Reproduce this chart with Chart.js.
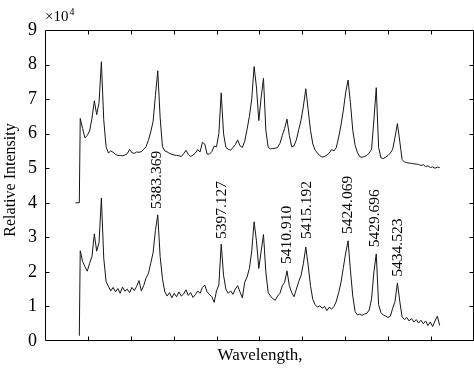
<!DOCTYPE html>
<html>
<head>
<meta charset="utf-8">
<script src="https://cdn.jsdelivr.net/npm/chart.js@4.4.1/dist/chart.umd.min.js"></script>
<style>
  html, body { margin: 0; padding: 0; background: #fff; }
  #wrap { width: 474px; height: 369px; }
</style>
</head>
<body>
<div id="wrap"><canvas id="spec" width="474" height="369"></canvas></div>
<script>
/* ── DATA: sampled spectra (x in Å, intensity in units of 1e4) ── */
var WAVELENGTH = [
  5366.0, 5366.5, 5366.8, 5367.0, 5367.5, 5368.0, 5368.5, 5369.0, 5369.5, 5370.0, 5370.5,
  5371.0, 5371.5, 5372.0, 5372.5, 5373.0, 5373.5, 5374.0, 5374.5, 5375.0, 5375.5,
  5376.0, 5376.5, 5377.0, 5377.5, 5378.0, 5378.5, 5379.0, 5379.5, 5380.0, 5380.5,
  5381.0, 5381.5, 5382.0, 5382.5, 5383.0, 5383.5, 5384.0, 5384.5, 5385.0, 5385.5,
  5386.0, 5386.5, 5387.0, 5387.5, 5388.0, 5388.5, 5389.0, 5389.5, 5390.0, 5390.5,
  5391.0, 5391.5, 5392.0, 5392.5, 5393.0, 5393.5, 5394.0, 5394.5, 5395.0, 5395.5,
  5396.0, 5396.5, 5397.0, 5397.5, 5398.0, 5398.5, 5399.0, 5399.5, 5400.0, 5400.5,
  5401.0, 5401.5, 5402.0, 5402.5, 5403.0, 5403.5, 5404.0, 5404.5, 5405.0, 5405.5,
  5406.0, 5406.5, 5407.0, 5407.5, 5408.0, 5408.5, 5409.0, 5409.5, 5410.0, 5410.5,
  5411.0, 5411.5, 5412.0, 5412.5, 5413.0, 5413.5, 5414.0, 5414.5, 5415.0, 5415.5,
  5416.0, 5416.5, 5417.0, 5417.5, 5418.0, 5418.5, 5419.0, 5419.5, 5420.0, 5420.5,
  5421.0, 5421.5, 5422.0, 5422.5, 5423.0, 5423.5, 5424.0, 5424.5, 5425.0, 5425.5,
  5426.0, 5426.5, 5427.0, 5427.5, 5428.0, 5428.5, 5429.0, 5429.5, 5430.0, 5430.5,
  5431.0, 5431.5, 5432.0, 5432.5, 5433.0, 5433.5, 5434.0, 5434.5, 5435.0, 5435.5,
  5436.0, 5436.5, 5437.0, 5437.5, 5438.0, 5438.5, 5439.0, 5439.5, 5440.0, 5440.5,
  5441.0, 5441.5, 5442.0, 5442.5, 5443.0, 5443.5
];

/* upper (offset) spectrum */
var UPPER = [
  4.0, 4.0, 4.0, 6.44, 6.15, 5.88, 5.95, 6.08, 6.45, 6.95, 6.55,
  6.9, 8.08, 6.4, 5.62, 5.44, 5.5, 5.46, 5.40, 5.37, 5.37,
  5.36, 5.38, 5.42, 5.54, 5.45, 5.43, 5.47, 5.46, 5.48, 5.55,
  5.62, 5.8, 6.05, 6.35, 7.1, 7.82, 6.48, 5.62, 5.5, 5.47,
  5.43, 5.40, 5.38, 5.37, 5.36, 5.34, 5.42, 5.52, 5.40, 5.34,
  5.38, 5.44, 5.54, 5.47, 5.75, 5.7, 5.41, 5.41, 5.48, 5.64,
  5.62, 6.0, 7.18, 6.0, 5.6, 5.55, 5.52, 5.6, 5.68, 5.82,
  5.65, 5.6, 5.78, 6.12, 6.5, 7.0, 7.94, 7.35, 6.38, 7.05,
  7.6, 6.1, 5.6, 5.56, 5.57, 5.58, 5.6, 5.72, 5.95, 6.15,
  6.42, 5.95, 5.62, 5.65, 5.82, 6.12, 6.4, 6.8, 7.3, 6.7,
  6.1, 5.7, 5.52, 5.44, 5.36, 5.32, 5.34, 5.38, 5.44, 5.54,
  5.5, 5.6, 5.9, 6.25, 6.68, 7.2, 7.55, 6.9, 6.1, 5.66,
  5.45, 5.33, 5.32, 5.34, 5.37, 5.44, 5.55, 6.4, 7.33, 5.6,
  5.3, 5.28, 5.32, 5.37, 5.44, 5.55, 5.9, 6.29, 5.78, 5.25,
  5.18, 5.16, 5.15, 5.14, 5.13, 5.12, 5.11, 5.08, 5.10, 5.05,
  5.07, 5.02, 5.04, 5.0, 5.03, 5.02
];

/* lower (raw, noisy) spectrum */
var LOWER = [
  null, null, 0.15, 2.61, 2.3, 2.15, 2.02, 2.25, 2.45, 3.10, 2.6,
  2.85, 4.14, 2.4, 1.72, 1.58, 1.45, 1.55, 1.42, 1.52, 1.38,
  1.56, 1.44, 1.5, 1.40, 1.55, 1.46, 1.58, 1.75, 1.45, 1.6,
  1.82, 1.95, 2.25, 2.55, 3.2, 3.65, 2.45, 1.8, 1.42, 1.3,
  1.4, 1.25, 1.38, 1.28, 1.42, 1.3, 1.36, 1.48, 1.32, 1.4,
  1.26, 1.34, 1.45, 1.38, 1.55, 1.62, 1.42, 1.35, 1.28, 1.12,
  1.45, 1.62, 2.8, 1.9, 1.5, 1.38, 1.45, 1.35, 1.5, 1.6,
  1.42, 1.25, 1.7, 1.85, 2.1, 2.6, 3.45, 2.9, 2.1, 2.6,
  3.08, 2.0, 1.4, 1.3, 1.22, 1.18, 1.3, 1.38, 1.6, 1.7,
  2.03, 1.6, 1.4, 1.28, 1.5, 1.72, 1.9, 2.25, 2.72, 2.2,
  1.6, 1.2, 1.05, 0.98, 1.02, 0.95, 1.0, 0.88, 0.98, 0.92,
  1.0, 1.15, 1.4, 1.7, 2.13, 2.55, 2.9, 2.05, 1.3, 0.85,
  0.75, 0.78, 0.74, 0.78, 0.8, 0.9, 1.22, 2.0, 2.52, 1.05,
  0.82, 0.75, 0.72, 0.68, 0.72, 0.95, 1.15, 1.68, 1.15, 0.7,
  0.62, 0.68, 0.58, 0.65, 0.55, 0.62, 0.52, 0.6, 0.5, 0.58,
  0.45, 0.55, 0.42, 0.58, 0.72, 0.45
];

/* identified lines: label text and the intensity where the label starts */
var PEAK_LABELS = ["5383.369", "5397.127", "5410.910", "5415.192", "5424.069", "5429.696", "5434.523"];
var PEAK_LABEL_BASE = [3.82, 2.95, 2.23, 2.95, 3.10, 2.71, 1.86];

var Y_TICKS = [0, 1, 2, 3, 4, 5, 6, 7, 8, 9];
var X_MIN = 5359.5, X_MAX = 5450.8;

/* ── helpers ── */
function toPoints(ys) {
  return WAVELENGTH.map(function (w, i) { return { x: w, y: ys[i] }; });
}

var SERIF = "'Liberation Serif', 'Times New Roman', serif";

/* ── frame with inward ticks, titles and line labels ── */
var frameAndText = {
  id: "frameAndText",
  afterDatasetsDraw: function (chart) {
    var ctx = chart.ctx, a = chart.chartArea;
    var xs = chart.scales.x, ys = chart.scales.y;
    var L = a.left + 0.5, R = a.right - 0.5, T = a.top + 0.5, B = a.bottom - 0.5;
    ctx.save();
    ctx.strokeStyle = "#000";
    ctx.lineWidth = 1;
    ctx.beginPath();
    ctx.rect(L, T, R - L, B - T);

    /* y ticks on both sides */
    Y_TICKS.forEach(function (v) {
      if (v === 0 || v === 9) return;
      var py = Math.round(ys.getPixelForValue(v)) + 0.5;
      ctx.moveTo(L, py); ctx.lineTo(L + 4, py);
      ctx.moveTo(R, py); ctx.lineTo(R - 4, py);
    });
    /* x ticks top and bottom */
    xs.ticks.forEach(function (t, k) {
      if (k === 0 || k === xs.ticks.length - 1) return;
      var px = Math.round(xs.getPixelForValue(t.value)) + 0.5;
      ctx.moveTo(px, B); ctx.lineTo(px, B - 4);
      ctx.moveTo(px, T); ctx.lineTo(px, T + 4);
    });
    ctx.stroke();

    ctx.fillStyle = "#000";

    /* x10^4 multiplier */
    ctx.font = "15px " + SERIF;
    ctx.textAlign = "left";
    ctx.textBaseline = "alphabetic";
    ctx.fillText("\u00d710", 45, 21);
    var w = ctx.measureText("\u00d710").width;
    ctx.font = "10px " + SERIF;
    ctx.fillText("4", 45 + w + 1, 15);

    /* axis titles */
    ctx.font = "17px " + SERIF;
    ctx.textAlign = "center";
    ctx.textBaseline = "middle";
    ctx.fillText("Wavelength,", 260, 356);

    ctx.save();
    ctx.translate(11, 180);
    ctx.rotate(-Math.PI / 2);
    ctx.font = "16px " + SERIF;
    ctx.fillText("Relative Intensity", 0, 0);
    ctx.restore();

    /* peak labels, rotated */
    ctx.font = "15.5px " + SERIF;
    ctx.textAlign = "left";
    ctx.textBaseline = "middle";
    PEAK_LABELS.forEach(function (lab, i) {
      var px = xs.getPixelForValue(parseFloat(lab));
      var py = ys.getPixelForValue(PEAK_LABEL_BASE[i]);
      ctx.save();
      ctx.translate(px, py);
      ctx.rotate(-Math.PI / 2);
      ctx.fillText(lab, 0, 0);
      ctx.restore();
    });
    ctx.restore();
  }
};

/* ── build chart ── */
new Chart(document.getElementById("spec"), {
  type: "line",
  data: {
    datasets: [
      { data: toPoints(UPPER), borderColor: "#151515", borderWidth: 1, pointRadius: 0, tension: 0, fill: false },
      { data: toPoints(LOWER), borderColor: "#151515", borderWidth: 1, pointRadius: 0, tension: 0, fill: false }
    ]
  },
  options: {
    responsive: false,
    animation: false,
    layout: { padding: { top: 30, right: 0, left: 0, bottom: 0 } },
    plugins: { legend: { display: false }, tooltip: { enabled: false } },
    scales: {
      x: {
        type: "linear",
        min: X_MIN, max: X_MAX,
        grid: { display: false, drawTicks: false },
        border: { display: false },
        ticks: { display: false },
        afterBuildTicks: function (scale) {
          var t = [];
          for (var k = 0; k <= 10; k++) t.push({ value: X_MIN + k * (X_MAX - X_MIN) / 10 });
          scale.ticks = t;
        },
        afterFit: function (scale) { scale.height = 28; }
      },
      y: {
        min: 0, max: 9,
        grid: { display: false, drawTicks: false },
        border: { display: false },
        ticks: {
          stepSize: 1,
          padding: 8,
          color: "#000",
          font: { family: SERIF, size: 18 }
        },
        afterFit: function (scale) { scale.width = 45; }
      }
    }
  },
  plugins: [frameAndText]
});
</script>
</body>
</html>
